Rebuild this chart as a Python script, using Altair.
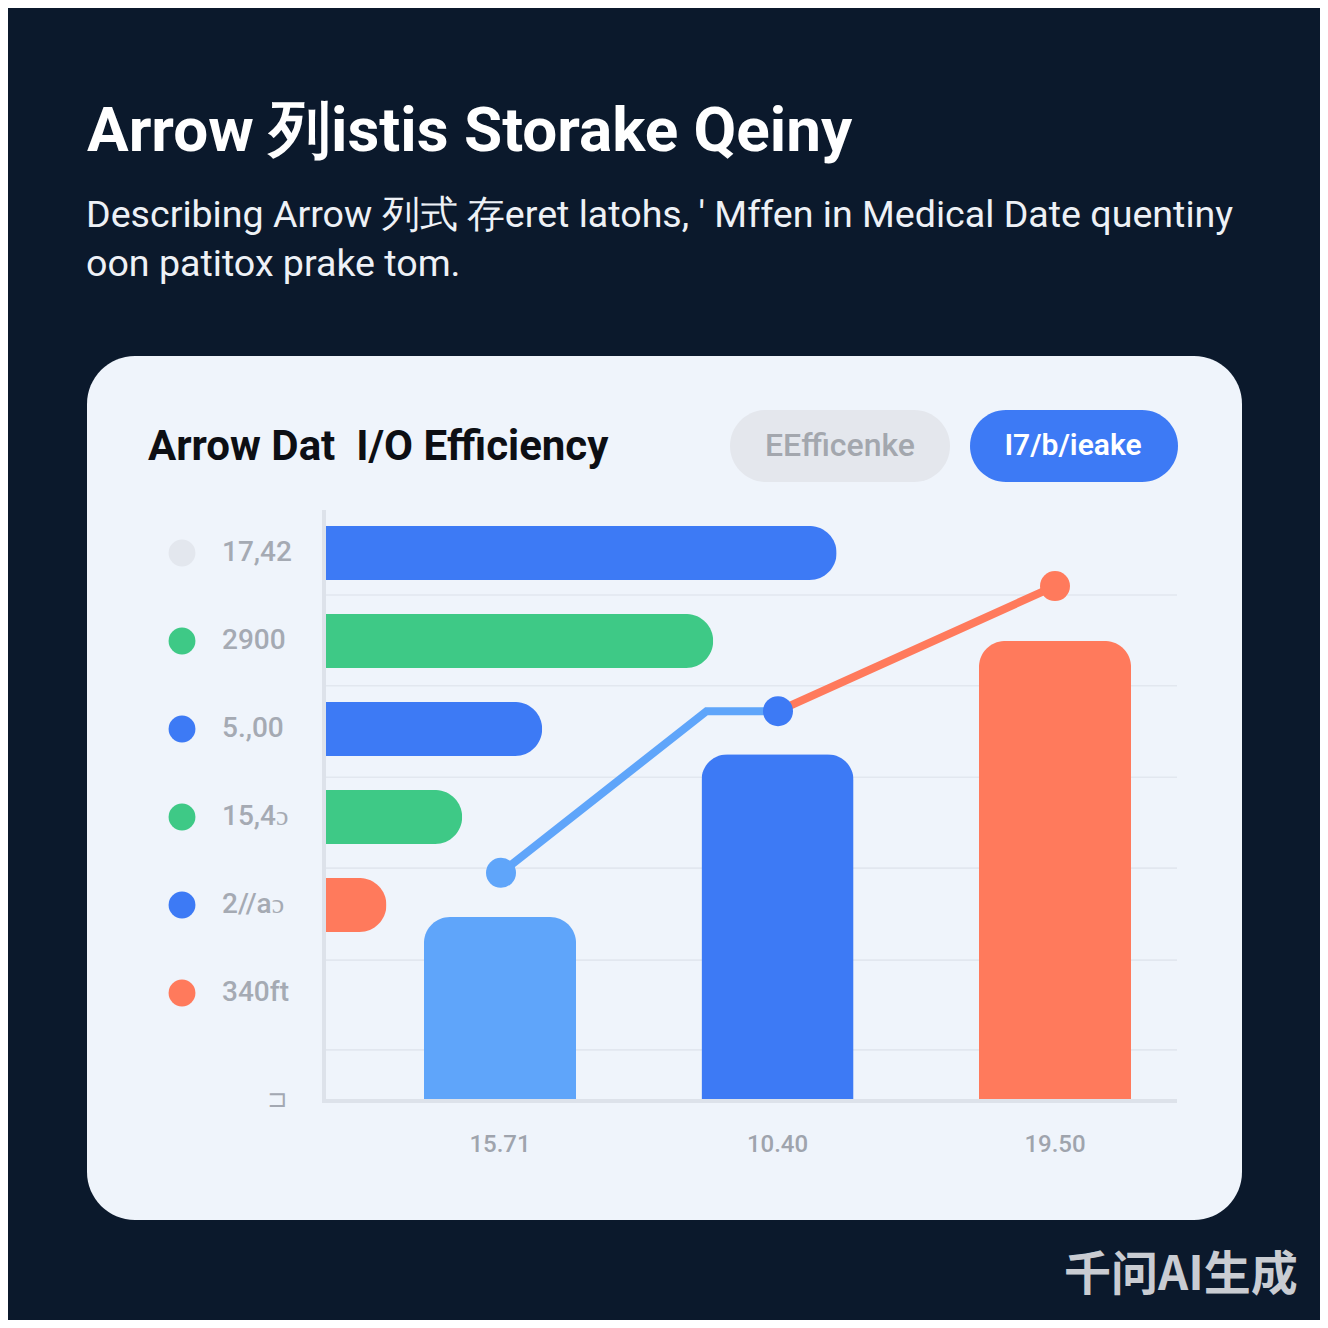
import altair as alt
import pandas as pd

# ---------------- data ----------------
row_labels = ["17,42", "2900", "5.,00", "15,4ɔ", "2//aɔ", "340ft"]
row_dot_colors = ["#e3e7ee", "#3ec986", "#3d7af5", "#3ec986", "#3d7af5", "#ff7a5c"]

hbar_rows = ["17,42", "2900", "5.,00", "15,4ɔ", "2//aɔ"]
hbar_values = [60.0, 45.5, 25.4, 16.0, 7.1]
hbar_colors = ["#3d7af5", "#3ec986", "#3d7af5", "#3ec986", "#ff7a5c"]

vbar_categories = ["15.71", "10.40", "19.50"]
vbar_values = [31.0, 58.6, 77.8]
vbar_colors = ["#5fa5fa", "#3d7af5", "#ff7a5c"]

line_pos = [1.0, 1.742, 2.0, 2.0, 3.0]
line_values = [38.5, 65.9, 65.9, 65.9, 87.1]
line_segment = ["a", "a", "a", "b", "b"]
line_colors = ["#5fa5fa", "#5fa5fa", "#5fa5fa", "#ff7a5c", "#ff7a5c"]

point_pos = [1.0, 2.0, 3.0]
point_values = [38.5, 65.9, 87.1]
point_colors = ["#5fa5fa", "#3d7af5", "#ff7a5c"]

grid_values = [85.6, 70.2, 54.7, 39.3, 23.7, 8.5]

title_text = "Arrow 列istis Storake Qeiny"
subtitle_lines = [
    "Describing Arrow 列式 存eret latohs, ' Mffen in Medical Date quentiny",
    "oon patitox prake tom.",
]
card_title = "Arrow Dat\u00a0\u00a0I/O Efficiency"
pill_left_text = "EEfficenke"
pill_right_text = "I7/b/ieake"
watermark = "千问AI生成"

# ---------------- tables ----------------
rows_df = pd.DataFrame({"row": row_labels, "dot": row_dot_colors})
hbar_df = pd.DataFrame({"row": hbar_rows, "value": hbar_values, "color": hbar_colors})
vbar_df = pd.DataFrame({"cat": vbar_categories, "value": vbar_values, "color": vbar_colors})
line_df = pd.DataFrame({"pos": line_pos, "value": line_values, "seg": line_segment,
                        "color": line_colors, "order": list(range(len(line_pos)))})
pt_df = pd.DataFrame({"pos": point_pos, "value": point_values, "color": point_colors})
grid_df = pd.DataFrame({"value": grid_values})
one = pd.DataFrame({"k": [0]})

W, H = 851, 590
FONT = "Roboto"

row_scale = alt.Scale(domain=row_labels, range=[-1, 527], paddingInner=0.386, paddingOuter=0.193)
hx_scale = alt.Scale(domain=[0, 100], range=[0, W])
val_scale = alt.Scale(domain=[0, 100], range=[H, 0])
cat_scale = alt.Scale(domain=vbar_categories, range=[35.25, 867.75], paddingInner=0.452, paddingOuter=0.226)
pos_scale = alt.Scale(domain=[1, 3], range=[175, 729])

# card background
card = alt.Chart(one).mark_rect(color="#eff4fb", cornerRadius=48).encode(
    x=alt.value(-239), x2=alt.value(916), y=alt.value(-154), y2=alt.value(710)
)

# pills
pill_l = alt.Chart(one).mark_rect(color="#e4e7ed", cornerRadius=36).encode(
    x=alt.value(730 - 326), x2=alt.value(950 - 326), y=alt.value(410 - 510), y2=alt.value(482 - 510)
)
pill_r = alt.Chart(one).mark_rect(color="#3d7af5", cornerRadius=36).encode(
    x=alt.value(970 - 326), x2=alt.value(1178 - 326), y=alt.value(410 - 510), y2=alt.value(482 - 510)
)
pill_l_t = alt.Chart(one).mark_text(text=pill_left_text, font=FONT, fontSize=32, fontWeight=500,
                                    color="#a3a7ae", align="center", baseline="middle").encode(
    x=alt.value(840 - 326), y=alt.value(446 - 510)
)
pill_r_t = alt.Chart(one).mark_text(text=pill_right_text, font=FONT, fontSize=30, fontWeight=600,
                                    color="#ffffff", align="center", baseline="middle").encode(
    x=alt.value(1073 - 326), y=alt.value(446 - 510)
)

# titles
t_main = alt.Chart(one).mark_text(text=title_text, font=FONT, fontSize=62, fontWeight="bold",
                                  color="#ffffff", align="left", baseline="alphabetic").encode(
    x=alt.value(87 - 326), y=alt.value(151 - 510)
)
t_sub1 = alt.Chart(one).mark_text(text=subtitle_lines[0], font=FONT, fontSize=37.6,
                                  color="#eef1f6", align="left", baseline="alphabetic").encode(
    x=alt.value(86 - 326), y=alt.value(227 - 510)
)
t_sub2 = alt.Chart(one).mark_text(text=subtitle_lines[1], font=FONT, fontSize=37.6,
                                  color="#eef1f6", align="left", baseline="alphabetic").encode(
    x=alt.value(86 - 326), y=alt.value(276 - 510)
)
t_card = alt.Chart(one).mark_text(text=card_title, font=FONT, fontSize=42, fontWeight="bold",
                                  color="#0d0f14", align="left", baseline="middle").encode(
    x=alt.value(148 - 326), y=alt.value(447 - 510)
)
t_wm = alt.Chart(one).mark_text(text=watermark, font="Noto Sans CJK SC", fontSize=47, fontWeight="bold",
                                color="#c9ccd2", align="left", baseline="middle").encode(
    x=alt.value(1064 - 326), y=alt.value(1276 - 510)
)
t_tick = alt.Chart(one).mark_text(text="⊐", font="DejaVu Sans", fontSize=24,
                                  color="#a3a8b2", align="center", baseline="middle").encode(
    x=alt.value(277 - 326), y=alt.value(1100 - 510)
)

# gridlines
grid = alt.Chart(grid_df).mark_rule(color="#e2e7ef", strokeWidth=1.6).encode(
    y=alt.Y("value:Q", scale=val_scale, axis=None),
    x=alt.value(0), x2=alt.value(W)
)

# axis lines
ax_left = alt.Chart(one).mark_rule(color="#dde2ea", strokeWidth=4).encode(
    x=alt.value(-2), y=alt.value(0), y2=alt.value(H + 2)
)
ax_bottom = alt.Chart(one).mark_rule(color="#dde2ea", strokeWidth=4).encode(
    x=alt.value(-4), x2=alt.value(W), y=alt.value(H + 1)
)

# horizontal bars
hbars = alt.Chart(hbar_df).mark_bar(cornerRadiusEnd=27).encode(
    y=alt.Y("row:N", scale=row_scale, axis=None, sort=row_labels),
    x=alt.X("value:Q", scale=hx_scale, axis=None),
    color=alt.Color("color:N", scale=None),
)

dots = alt.Chart(rows_df).mark_circle(size=720, opacity=1).encode(
    y=alt.Y("row:N", scale=row_scale, axis=None, sort=row_labels),
    x=alt.value(182 - 326),
    color=alt.Color("dot:N", scale=None),
)
row_text = alt.Chart(rows_df).mark_text(font=FONT, fontSize=28, fontWeight=500, color="#a5aab3",
                                        align="left", baseline="middle").encode(
    y=alt.Y("row:N", scale=row_scale, axis=None, sort=row_labels),
    x=alt.value(222 - 326),
    text="row:N",
)

# vertical bars with x axis labels
vbars = alt.Chart(vbar_df).mark_bar(cornerRadiusEnd=26).encode(
    x=alt.X("cat:N", scale=cat_scale, sort=vbar_categories, title=None,
            axis=alt.Axis(domain=False, ticks=False, grid=False, labelAngle=0,
                          labelFont=FONT, labelFontSize=24, labelFontWeight=500,
                          labelColor="#9fa4ad", labelPadding=32, zindex=1)),
    y=alt.Y("value:Q", scale=val_scale, axis=None),
    color=alt.Color("color:N", scale=None),
)

line = alt.Chart(line_df).mark_line(strokeWidth=8, strokeCap="round", strokeJoin="miter").encode(
    x=alt.X("pos:Q", scale=pos_scale, axis=None),
    y=alt.Y("value:Q", scale=val_scale, axis=None),
    detail="seg:N",
    order="order:Q",
    color=alt.Color("color:N", scale=None),
)
points = alt.Chart(pt_df).mark_circle(size=900, opacity=1).encode(
    x=alt.X("pos:Q", scale=pos_scale, axis=None),
    y=alt.Y("value:Q", scale=val_scale, axis=None),
    color=alt.Color("color:N", scale=None),
)

chart = alt.layer(
    card, pill_l, pill_r, pill_l_t, pill_r_t, t_main, t_sub1, t_sub2, t_card, t_wm, t_tick,
    grid, hbars, dots, row_text, vbars, line, points, ax_left, ax_bottom,
).resolve_scale(
    x="independent", y="independent"
).properties(
    width=W, height=H,
    padding={"left": 318, "top": 502, "right": 143, "bottom": 220},
    autosize=alt.AutoSizeParams(type="none"),
    background="#0b192c",
).configure_view(stroke=None)

chart.save("out.html", embed_options={"renderer": "svg", "actions": False})
